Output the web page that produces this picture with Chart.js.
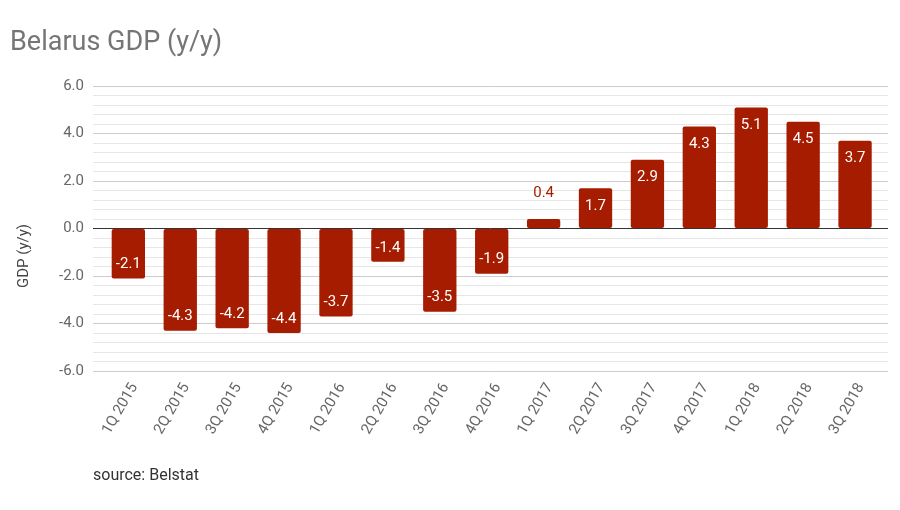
<!DOCTYPE html>
<html>
<head>
<meta charset="utf-8">
<script src="https://cdn.jsdelivr.net/npm/chart.js@4"></script>
<style>
html,body{margin:0;padding:0;background:#fff;}
#wrap{width:900px;height:510px;position:relative;}
</style>
</head>
<body>
<div id="wrap"><canvas id="c" width="900" height="510"></canvas></div>
<script>
const categories = ["1Q 2015","2Q 2015","3Q 2015","4Q 2015","1Q 2016","2Q 2016","3Q 2016","4Q 2016","1Q 2017","2Q 2017","3Q 2017","4Q 2017","1Q 2018","2Q 2018","3Q 2018"];
const gdpValues = [-2.1,-4.3,-4.2,-4.4,-3.7,-1.4,-3.5,-1.9,0.4,1.7,2.9,4.3,5.1,4.5,3.7];
const yMin = -6, yMax = 6, yMinorStep = 0.4, yMajorStep = 2;
const titleText = "Belarus GDP (y/y)";
const yAxisTitle = "GDP (y/y)";
const sourceText = "source: Belstat";

const BAR = '#a61c00';
const FONT = 'Roboto, "Noto Sans", sans-serif';

const labelPlugin = {
  id: 'barLabels',
  afterLayout(chart) {
    // inset the category range inside the plot area (as in the reference)
    const x = chart.scales.x;
    x._startPixel = x.left + 9.4;
    x._endPixel = x.right - 7;
    x._length = x._endPixel - x._startPixel;
  },
  afterDatasetsDraw(chart) {
    const ctx = chart.ctx;
    const meta = chart.getDatasetMeta(0);
    ctx.save();
    ctx.font = '15px ' + FONT;
    ctx.textAlign = 'center';
    ctx.textBaseline = 'middle';
    meta.data.forEach((bar, i) => {
      const v = gdpValues[i];
      const txt = v.toFixed(1);
      const h = Math.abs(bar.base - bar.y);
      if (h < 24) {
        ctx.fillStyle = BAR;
        if (v >= 0) ctx.fillText(txt, bar.x, bar.y - 26);
        else ctx.fillText(txt, bar.x, bar.y + 26);
      } else {
        ctx.fillStyle = '#ffffff';
        if (v >= 0) ctx.fillText(txt, bar.x, bar.y + 18);
        else ctx.fillText(txt, bar.x, bar.y - 14);
      }
    });
    ctx.restore();
  },
  afterDraw(chart) {
    const ctx = chart.ctx;
    ctx.save();
    ctx.font = '16px ' + FONT;
    ctx.fillStyle = '#333333';
    ctx.textAlign = 'left';
    ctx.textBaseline = 'middle';
    ctx.fillText(sourceText, 93, 476);
    ctx.translate(24, 256);
    ctx.rotate(-Math.PI / 2);
    ctx.font = '15px ' + FONT;
    ctx.fillStyle = '#444444';
    ctx.textAlign = 'center';
    ctx.fillText(yAxisTitle, 0, 0);
    ctx.restore();
  }
};

function isMajor(v){ return Math.abs(Math.round(v*10) % (yMajorStep*10)) === 0; }

new Chart(document.getElementById('c'), {
  type: 'bar',
  data: {
    labels: categories,
    datasets: [{
      data: gdpValues,
      backgroundColor: BAR,
      borderRadius: 2,
      borderSkipped: false,
      barPercentage: 0.642,
      categoryPercentage: 1.0
    }]
  },
  options: {
    responsive: false,
    animation: false,
    devicePixelRatio: 1,
    layout: { padding: { left: 10, right: 12, top: 0, bottom: 0 } },
    plugins: {
      legend: { display: false },
      tooltip: { enabled: false },
      title: {
        display: true,
        text: titleText,
        align: 'start',
        color: '#757575',
        font: { family: FONT, size: 27, weight: 'normal' },
        padding: { top: 27, bottom: 26.6 }
      }
    },
    scales: {
      x: {
        grid: { display: false, drawTicks: false },
        border: { display: false },
        ticks: {
          color: '#666666',
          font: { family: FONT, size: 15 },
          minRotation: 60,
          maxRotation: 60,
          padding: 9,
          labelOffset: 6,
          autoSkip: false
        },
        afterFit(scale) { scale.height = 139; }
      },
      y: {
        min: yMin,
        max: yMax,
        border: { display: false },
        grid: {
          drawTicks: false,
          color: (c) => {
            const v = c.tick.value;
            if (Math.abs(v) < 1e-6) return '#333333';
            return isMajor(v) ? '#cccccc' : '#e6e6e6';
          },
          lineWidth: 1
        },
        ticks: {
          stepSize: yMinorStep,
          autoSkip: false,
          padding: 9,
          color: '#666666',
          font: { family: FONT, size: 15 },
          callback: (v) => isMajor(v) ? Number(v).toFixed(1) : ''
        },
        afterFit(scale) { scale.width = 83; }
      }
    }
  },
  plugins: [labelPlugin]
});
</script>
</body>
</html>
